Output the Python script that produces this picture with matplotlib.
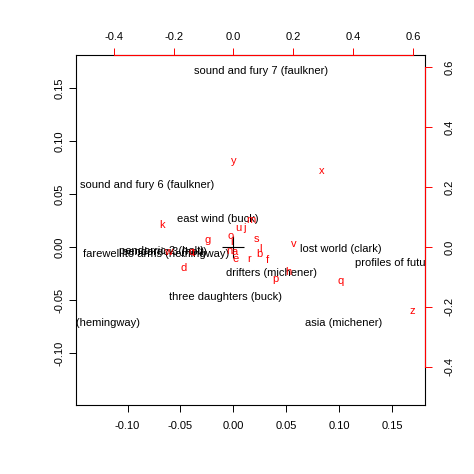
import matplotlib
matplotlib.use("Agg")
import matplotlib.pyplot as plt
import numpy as np

plt.rcParams['font.family'] = ['Liberation Sans', 'DejaVu Sans']
plt.rcParams['font.size'] = 8
plt.rcParams['axes.unicode_minus'] = False

# row scores (books)
books = ["three daughters (buck)", "drifters (michener)", "lost world (clark)",
         "east wind (buck)", "farewell to arms (hemingway)", "sound and fury 7 (faulkner)",
         "sound and fury 6 (faulkner)", "profiles of future (clark)", "islands (hemingway)",
         "pendorric 3 (holt)", "asia (michener)", "pendorric 2 (holt)"]
book_x = [-0.0078, 0.0361, 0.1017, -0.0149, -0.0731, 0.0260,
          -0.0819, 0.1688, -0.1368, -0.0655, 0.1040, -0.0676]
book_y = [-0.0476, -0.0246, -0.0015, 0.0268, -0.0069, 0.1655,
          0.0586, -0.0148, -0.0719, -0.0045, -0.0719, -0.0035]

# column scores (letters)
letters = list("abcdefghijklmnopqrstuvwxyz")
letter_x = [0.003, 0.086, -0.140, -0.167, 0.008, 0.112, -0.087, 0.184, -0.005,
            0.038, -0.240, 0.089, 0.059, -0.012, -0.010, 0.142, 0.359, 0.051,
            0.076, -0.135, 0.015, 0.201, -0.220, 0.294, 0.000, 0.597]
letter_y = [-0.016, -0.025, -0.016, -0.070, -0.039, -0.044, 0.022, -0.084, 0.016,
            0.062, 0.073, -0.008, 0.089, -0.013, 0.038, -0.106, -0.115, -0.039,
            0.026, -0.020, 0.064, 0.009, -0.016, 0.254, 0.288, -0.214]

main_ticks = [-0.10, -0.05, 0.00, 0.05, 0.10, 0.15]
sec_ticks = [-0.4, -0.2, 0.0, 0.2, 0.4, 0.6]


def unsigned_range(v):
    return np.array([-abs(min(v)), abs(max(v))])


# same range logic as R's biplot
rx = unsigned_range(book_x + book_y)
ratio = max(np.max(unsigned_range(letter_x) / rx), np.max(unsigned_range(letter_y) / rx))
lim = rx + np.array([-0.04, 0.04]) * (rx[1] - rx[0])
lim2 = lim * ratio

fig = plt.figure(figsize=(4.74, 4.74), dpi=100)
pos = [0.1597, 0.1456, 0.7369, 0.7384]
ax = fig.add_axes(pos)
ax.set_xlim(lim)
ax.set_ylim(lim)
for t, x, y in zip(books, book_x, book_y):
    ax.text(x, y, t, ha='center', va='center', clip_on=True)
ax.plot(0, 0, marker='+', ms=16.5, mew=0.8, color='black')
ax.set_xticks(main_ticks)
ax.set_yticks(main_ticks)
ax.set_xticklabels(['%.2f' % v for v in main_ticks])
ax.set_yticklabels(['%.2f' % v for v in main_ticks], rotation=90, va='center')
ax.tick_params(length=4.8, width=0.7)
ax.tick_params(axis='x', pad=6.5)
ax.tick_params(axis='y', pad=3.2)
for s in ax.spines.values():
    s.set_linewidth(0.8)

ax2 = fig.add_axes(pos)
ax2.patch.set_visible(False)
ax2.set_xlim(lim2)
ax2.set_ylim(lim2)
for t, x, y in zip(letters, letter_x, letter_y):
    ax2.text(x, y, t, ha='center', va='center', color='red', clip_on=True)
ax2.xaxis.tick_top()
ax2.yaxis.tick_right()
ax2.set_xticks(sec_ticks)
ax2.set_yticks(sec_ticks)
ax2.set_xticklabels(['%.1f' % v for v in sec_ticks])
ax2.set_yticklabels(['%.1f' % v for v in sec_ticks], rotation=90, va='center')
ax2.tick_params(length=4.8, width=0.7, color='red', labelcolor='black')
ax2.tick_params(axis='x', pad=4.8)
ax2.tick_params(axis='y', pad=9.5)
ax2.spines['left'].set_visible(False)
ax2.spines['bottom'].set_visible(False)
for side in ['top', 'right']:
    ax2.spines[side].set_color('red')
    ax2.spines[side].set_linewidth(0.8)
    ax2.spines[side].set_bounds(sec_ticks[0], sec_ticks[-1])

fig.savefig("out.png", dpi=100)
